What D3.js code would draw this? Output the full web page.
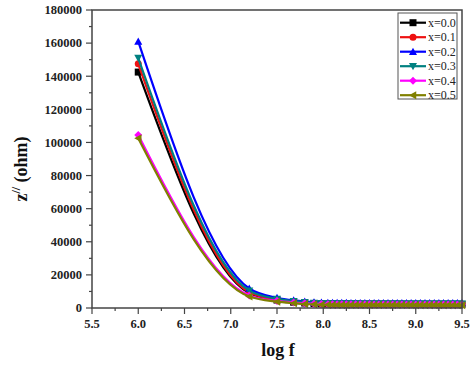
<!DOCTYPE html>
<html><head><meta charset="utf-8">
<script src="https://cdn.jsdelivr.net/npm/d3@7"></script>
<style>body{margin:0;background:#fff}svg{display:block}</style>
</head><body><svg id="c" width="474" height="367"></svg>
<script>
const logF = [6.0, 7.2, 7.5, 7.68, 7.8, 7.9, 7.98, 8.05, 8.1, 8.15, 8.2, 8.25, 8.3, 8.35, 8.4, 8.45, 8.5, 8.55, 8.6, 8.65, 8.7, 8.75, 8.8, 8.85, 8.9, 8.95, 9.0, 9.05, 9.1, 9.15, 9.2, 9.25, 9.3, 9.35, 9.4, 9.45, 9.5];
const seriesNames = ["x=0.0", "x=0.1", "x=0.2", "x=0.3", "x=0.4", "x=0.5"];
const z00 = [142500, 9000, 4800, 3500, 3000, 2700, 2500, 2400, 2350, 2330, 2320, 2310, 2300, 2300, 2290, 2280, 2280, 2270, 2270, 2260, 2260, 2250, 2250, 2250, 2240, 2240, 2230, 2230, 2230, 2220, 2220, 2220, 2210, 2210, 2200, 2200, 2200];
const z01 = [147500, 9500, 5000, 3700, 3100, 2800, 2600, 2500, 2450, 2430, 2420, 2410, 2400, 2400, 2390, 2380, 2380, 2370, 2370, 2360, 2360, 2350, 2350, 2350, 2340, 2340, 2330, 2330, 2330, 2320, 2320, 2320, 2310, 2310, 2300, 2300, 2300];
const z02 = [161000, 11800, 6200, 4600, 3900, 3500, 3300, 3200, 3150, 3120, 3100, 3090, 3080, 3070, 3060, 3050, 3050, 3040, 3040, 3030, 3030, 3020, 3020, 3010, 3010, 3000, 3000, 3000, 2990, 2990, 2990, 2980, 2980, 2980, 2970, 2970, 2970];
const z03 = [151000, 10500, 5500, 4100, 3500, 3100, 2900, 2800, 2750, 2720, 2700, 2690, 2680, 2670, 2660, 2650, 2650, 2640, 2640, 2630, 2630, 2620, 2620, 2610, 2610, 2600, 2600, 2600, 2590, 2590, 2590, 2580, 2580, 2580, 2570, 2570, 2570];
const z04 = [104500, 7600, 4300, 3300, 2800, 2500, 2400, 2300, 2250, 2230, 2220, 2210, 2200, 2200, 2190, 2180, 2180, 2170, 2170, 2160, 2160, 2150, 2150, 2150, 2140, 2140, 2130, 2130, 2130, 2120, 2120, 2120, 2110, 2110, 2100, 2100, 2100];
const z05 = [102500, 6900, 3800, 2900, 2400, 2200, 2000, 1900, 1870, 1850, 1840, 1830, 1820, 1820, 1810, 1800, 1800, 1790, 1790, 1780, 1780, 1770, 1770, 1770, 1760, 1760, 1750, 1750, 1750, 1740, 1740, 1740, 1730, 1730, 1720, 1720, 1720];
const xTicks = [5.5, 6.0, 6.5, 7.0, 7.5, 8.0, 8.5, 9.0, 9.5];
const yTicks = [0, 20000, 40000, 60000, 80000, 100000, 120000, 140000, 160000, 180000];

const colors = ["#000000", "#ee1111", "#0000ff", "#008080", "#ff00ff", "#808000"];
const symbols = ["square", "circle", "triUp", "triDown", "diamond", "triLeft"];
const allSeries = [z00, z01, z02, z03, z04, z05];

const svg = d3.select("#c");
const L = 92, R = 462, T = 10, B = 308;
const x = d3.scaleLinear().domain([5.5, 9.5]).range([L, R]);
const y = d3.scaleLinear().domain([0, 180000]).range([B, T]);
const font = "'Liberation Serif','Times New Roman',serif";

function marker(g, type, cx, cy, color, s) {
  const h = s / 2;
  let el;
  if (type === "square") el = g.append("rect").attr("x", cx - h).attr("y", cy - h).attr("width", s).attr("height", s);
  else if (type === "circle") el = g.append("circle").attr("cx", cx).attr("cy", cy).attr("r", h);
  else {
    let pts;
    const k = h * 1.15;
    if (type === "triUp") pts = [[cx, cy - k], [cx + k, cy + k * 0.8], [cx - k, cy + k * 0.8]];
    else if (type === "triDown") pts = [[cx, cy + k], [cx + k, cy - k * 0.8], [cx - k, cy - k * 0.8]];
    else if (type === "triLeft") pts = [[cx - k, cy], [cx + k * 0.8, cy - k], [cx + k * 0.8, cy + k]];
    else pts = [[cx, cy - k], [cx + k, cy], [cx, cy + k], [cx - k, cy]];
    el = g.append("polygon").attr("points", pts.map(p => p.join(",")).join(" "));
  }
  el.attr("fill", color);
}

// data
const line = d3.line().x(d => x(d[0])).y(d => y(d[1])).curve(d3.curveMonotoneX);
allSeries.forEach((vals, i) => {
  const pts = logF.map((f, j) => [f, vals[j]]);
  const g = svg.append("g");
  g.append("path").attr("d", line(pts)).attr("fill", "none").attr("stroke", colors[i]).attr("stroke-width", 2.2);
  pts.forEach(p => marker(g, symbols[i], x(p[0]), y(p[1]), colors[i], 7));
});

// frame
svg.append("rect").attr("x", L).attr("y", T).attr("width", R - L).attr("height", B - T)
  .attr("fill", "none").attr("stroke", "#444").attr("stroke-width", 1.5);

// ticks
const ax = svg.append("g").attr("stroke", "#444").attr("stroke-width", 1.2);
d3.range(0, 180001, 10000).forEach(v => {
  const major = v % 20000 === 0;
  ax.append("line").attr("x1", L - (major ? 6 : 3)).attr("x2", L).attr("y1", y(v)).attr("y2", y(v));
});
d3.range(5.5, 9.51, 0.25).forEach(v => {
  const major = Math.abs(v * 2 - Math.round(v * 2)) < 1e-6;
  ax.append("line").attr("x1", x(v)).attr("x2", x(v)).attr("y1", B).attr("y2", B + (major ? 6 : 3));
});
svg.append("g").selectAll("text").data(yTicks).join("text")
  .attr("x", L - 10).attr("y", d => y(d)).attr("dy", "0.35em").attr("text-anchor", "end")
  .attr("font-family", font).attr("font-weight", "bold").attr("font-size", 12.5).attr("fill", "#222")
  .text(d => d);
svg.append("g").selectAll("text").data(xTicks).join("text")
  .attr("x", d => x(d)).attr("y", 328).attr("text-anchor", "middle")
  .attr("font-family", font).attr("font-weight", "bold").attr("font-size", 12.5).attr("fill", "#222")
  .text(d => d.toFixed(1));

// axis titles
svg.append("text").attr("x", 278).attr("y", 356).attr("text-anchor", "middle")
  .attr("font-family", font).attr("font-weight", "bold").attr("font-size", 18).attr("fill", "#111").text("log f");
const yt = svg.append("text").attr("transform", "translate(27,169) rotate(-90)").attr("text-anchor", "middle")
  .attr("font-family", font).attr("font-weight", "bold").attr("font-size", 18).attr("fill", "#111");
yt.append("tspan").text("z");
yt.append("tspan").attr("dy", -7).attr("font-size", 12).text("//");
yt.append("tspan").attr("dy", 7).text(" (ohm)");

// legend
const lg = svg.append("g");
lg.append("rect").attr("x", 398).attr("y", 13).attr("width", 59).attr("height", 86)
  .attr("fill", "#fff").attr("stroke", "#555").attr("stroke-width", 1);
seriesNames.forEach((n, i) => {
  const yy = 22.7 + i * 14.5;
  lg.append("line").attr("x1", 400).attr("x2", 426).attr("y1", yy).attr("y2", yy).attr("stroke", colors[i]).attr("stroke-width", 2.2);
  marker(lg, symbols[i], 413, yy, colors[i], 7);
  lg.append("text").attr("x", 428).attr("y", yy).attr("dy", "0.35em")
    .attr("font-family", font).attr("font-size", 12).attr("fill", "#222").text(n);
});
</script></body></html>
